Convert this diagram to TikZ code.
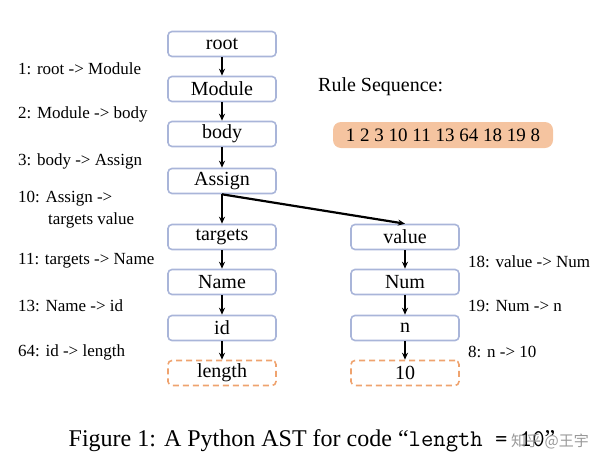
\documentclass[tikz,border=0pt]{standalone}
\usepackage{fontspec}
\setmainfont{Liberation Serif}
\newfontfamily\cjk{Noto Sans CJK SC}
\usetikzlibrary{arrows.meta}
\definecolor{bx}{HTML}{A9B5D9}
\definecolor{ob}{HTML}{EFA36F}
\definecolor{of}{HTML}{F5C4A0}
\begin{document}
\begin{tikzpicture}[x=1pt,y=-1pt,
  box/.style={draw=bx,line width=1.6pt,rounded corners=4pt,minimum width=108pt,minimum height=25pt,inner sep=0pt,font=\fontsize{20}{20}\selectfont},
  dbox/.style={box,draw=ob,dashed,dash pattern=on 6pt off 4pt},
  lab/.style={anchor=west,font=\fontsize{17}{22}\selectfont,align=left,inner sep=0pt},
  arr/.style={-{Stealth[length=7pt,width=6pt]},line width=1.8pt}]
\useasboundingbox (0,0) rectangle (600,472);
\node[box] (root) at (222,44) {root};
\node[box] (mod) at (222,89) {Module};
\node[box] (body) at (222,134) {body};
\node[box] (asg) at (222,181) {Assign};
\node[box] (tg) at (222,237) {targets};
\node[box] (name) at (222,282) {Name};
\node[box] (id) at (222,328) {id};
\node[dbox] (len) at (222,373) {length};
\node[box] (val) at (405,237) {value};
\node[box] (num) at (405,282) {Num};
\node[box] (n) at (405,328) {n};
\node[dbox] (ten) at (405,373) {10};
\foreach \a/\b in {root/mod,mod/body,body/asg,asg/tg,tg/name,name/id,id/len,val/num,num/n,n/ten}
  \draw[arr] (\a) -- (\b);
\draw[arr,line width=2.2pt] (asg.south) -- (val.north);
\node[lab] (l1) at (18,69) {1: root -> Module};
\node[lab] (l2) at (18,114) {2: Module -> body};
\node[lab] (l3) at (18,161) {3: body -> Assign};
\node[lab] (l10) at (18,210) {10: Assign ->\\\hspace*{30pt}targets value};
\node[lab] (l11) at (18,261) {11: targets -> Name};
\node[lab] (l13) at (18,306) {13: Name -> id};
\node[lab] (l64) at (18,352) {64: id -> length};
\node[lab] (l18) at (468,262) {18: value -> Num};
\node[lab] (l19) at (468,306) {19: Num -> n};
\node[lab] (l8) at (468,352) {8: n -> 10};
\node[lab,font=\fontsize{20}{20}\selectfont] (rs) at (318,87) {Rule Sequence:};
\node[fill=of,rounded corners=8pt,minimum width=220pt,minimum height=26pt,font=\fontsize{19}{19}\selectfont] (seq) at (443,135) {1 2 3 10 11 13 64 18 19 8};
\node[font=\fontsize{24}{24}\selectfont] (cap) at (312,441) {Figure 1: A Python AST for code “\texttt{length = 10}”};
\node[text=black!40,font=\cjk\fontsize{15}{15}\selectfont] (wm) at (550,441) {知乎 @王宇};
\end{tikzpicture}
\end{document}
